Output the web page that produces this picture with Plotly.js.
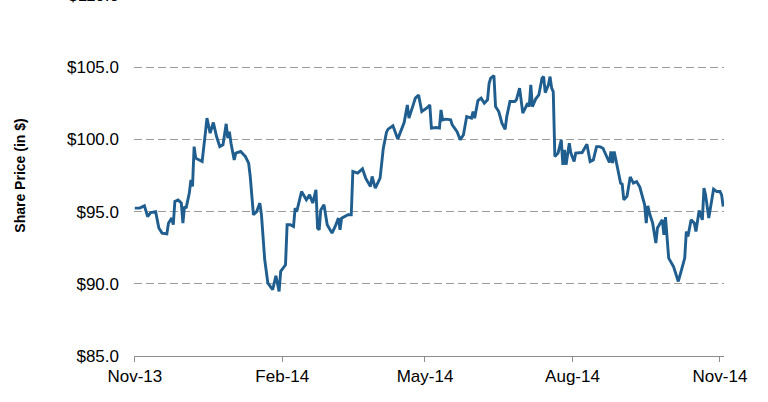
<!DOCTYPE html>
<html>
<head>
<meta charset="utf-8">
<script src="https://cdn.plot.ly/plotly-3.0.1.min.js"></script>
<style>
  html, body { margin: 0; padding: 0; background: #fff; overflow: hidden; }
  #chart { position: absolute; left: 0; top: -10px; width: 768px; height: 412px; }
</style>
</head>
<body>
<div id="chart"></div>
<script>
// Calendar-day offsets from 1 Nov 2013 of each sampled trading day
const dayOffsets = [
  0,3,6,8,10,13,15,17,20,21,23,24,25,27,29,30,31,32,34,35,36,37,38,42,44,45,47,49,51,53,
  55,57,58,59,60,62,63,66,69,71,72,73,74,76,78,79,81,83,86,88,90,91,94,95,97,99,100,101,104,107,
  109,111,113,114,115,116,118,120,123,125,127,128,129,133,135,136,139,142,144,147,148,150,153,155,157,158,161,164,166,168,
  170,171,174,175,177,178,179,182,184,185,188,190,191,192,194,197,198,201,203,205,207,210,211,212,214,216,218,220,221,222,
  224,225,227,229,231,232,234,237,238,240,242,244,245,246,247,248,250,252,254,255,256,258,259,260,261,262,264,266,267,268,
  269,271,272,274,275,279,281,282,284,286,288,290,292,294,296,297,298,299,301,302,303,304,305,307,309,311,313,315,316,318,
  319,320,321,323,325,326,329,330,331,332,333,336,339,341,343,344,345,347,349,350,351,352,354,355,356,358,361,363,365,366,
  367
];
const sharePrice = [
  95.24,95.24,95.40,94.66,94.94,95.00,93.86,93.51,93.46,94.20,94.55,94.09,95.70,95.80,95.60,94.20,95.35,95.24,96.28,97.20,96.74,99.50,98.70,98.47,100.43,101.47,100.43,101.17,100.20,99.50,
  99.62,101.08,100.09,100.54,99.74,98.58,99.05,99.16,98.81,98.36,97.43,96.05,94.78,95.00,95.59,94.78,91.70,90.05,89.59,90.56,89.47,90.86,91.32,94.09,94.09,93.97,95.24,95.00,96.39,95.82,
  96.16,95.59,96.51,93.86,93.74,95.12,95.47,94.09,93.51,93.97,94.55,93.74,94.55,94.78,94.78,97.78,97.66,97.96,97.32,96.74,97.43,96.63,97.32,99.39,100.50,100.71,100.94,100.02,100.66,101.17,
  102.39,101.47,102.51,102.86,103.08,102.51,101.93,102.16,102.39,100.78,100.82,100.78,102.04,101.35,101.40,101.35,101.00,100.54,99.97,100.32,101.58,101.47,101.93,101.47,102.69,102.86,102.51,102.74,103.89,104.24,
  104.42,102.27,101.93,101.12,100.70,101.58,102.62,102.62,102.74,103.55,101.82,102.27,102.51,102.27,103.78,102.27,102.79,103.08,104.24,104.35,103.24,103.78,104.35,103.55,103.31,98.81,99.05,99.97,98.24,99.28,
  98.24,99.74,99.05,98.47,99.05,99.09,99.50,99.67,98.47,98.58,99.50,99.50,99.39,98.93,98.40,99.16,98.36,99.16,98.12,97.55,96.97,96.90,95.82,96.05,97.40,96.97,97.08,96.70,96.28,95.47,
  94.20,95.40,94.90,94.20,92.82,93.86,94.43,93.39,94.62,93.28,91.78,91.20,90.16,90.97,91.78,93.62,93.28,94.43,94.20,93.62,94.55,95.08,94.43,96.63,96.16,94.55,96.56,96.39,96.39,96.16,
  95.35
];
const tickDates = ['2013-11-01', '2014-02-01', '2014-05-01', '2014-08-01', '2014-11-01'];
const tickLabels = ['Nov-13', 'Feb-14', 'May-14', 'Aug-14', 'Nov-14'];
const yTicks = [85, 90, 95, 100, 105, 110];
const yTickLabels = ['$85.0', '$90.0', '$95.0', '$100.0', '$105.0', '$110.0'];

function offsetToDate(d) {
  const t = new Date(Date.UTC(2013, 10, 1 + d));
  return t.toISOString().slice(0, 10);
}
const dates = dayOffsets.map(offsetToDate);

const trace = {
  x: dates,
  y: sharePrice,
  type: 'scatter',
  mode: 'lines',
  line: { color: '#1f5e8e', width: 2.9 },
  hoverinfo: 'skip'
};

const layout = {
  width: 768,
  height: 412,
  margin: { l: 134, r: 44, t: 5, b: 46 },
  paper_bgcolor: '#ffffff',
  plot_bgcolor: '#ffffff',
  showlegend: false,
  font: { family: '"Liberation Sans", Arial, sans-serif', size: 17, color: '#000' },
  xaxis: {
    type: 'date',
    range: ['2013-10-31 12:00', '2014-11-03 12:00'],
    tickvals: tickDates,
    ticktext: tickLabels,
    showgrid: false,
    zeroline: false,
    showline: true,
    linecolor: '#8c8c8c',
    linewidth: 1,
    ticks: 'outside',
    ticklen: 5,
    tickcolor: '#8c8c8c',
    tickfont: { size: 17, color: '#000' }
  },
  yaxis: {
    range: [85, 110],
    tickvals: yTicks,
    ticktext: yTickLabels,
    ticklabeloverflow: 'allow',
    showgrid: true,
    gridcolor: '#9b9b9b',
    gridwidth: 1,
    griddash: '8px,4px',
    zeroline: false,
    showline: false,
    ticks: '',
    ticklabelstandoff: 14,
    tickfont: { size: 17, color: '#000' },
    title: {
      text: 'Share Price (in $)',
      font: { size: 14, color: '#000', family: '"Liberation Sans", Arial, sans-serif', weight: 'bold' },
      standoff: 38
    }
  }
};

Plotly.newPlot('chart', [trace], layout, { staticPlot: true, displayModeBar: false });
</script>
</body>
</html>
